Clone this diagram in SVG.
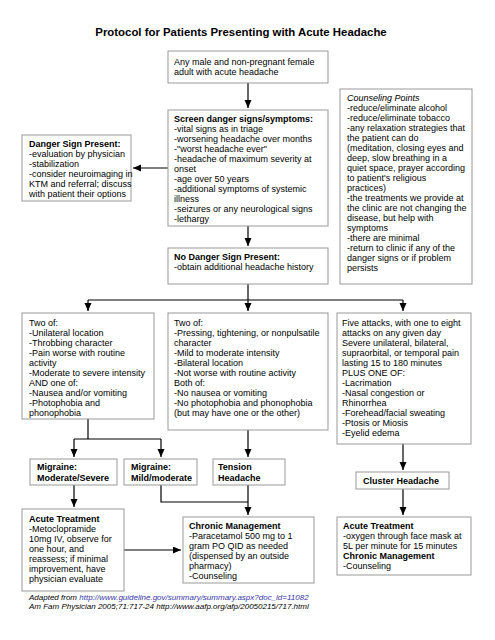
<svg xmlns="http://www.w3.org/2000/svg" width="495" height="640" viewBox="0 0 495 640">
<defs>
<marker id="ah" markerUnits="userSpaceOnUse" markerWidth="9" markerHeight="8" refX="8" refY="3.5" orient="auto">
<path d="M0,0 L8,3.5 L0,7 z" fill="#000"/>
</marker>
<style>
.box{fill:#fff;stroke:#999;stroke-width:1}
text{font-family:"Liberation Sans",Arial,sans-serif;font-size:9px;fill:#000}
.b{font-weight:bold}
.i{font-style:italic}
.t{font-size:11.4px;font-weight:bold}
.f{font-size:8px;font-style:italic}
.lk{fill:#3535a8}
.c{fill:none;stroke:#000;stroke-width:1.2}
</style>
</defs>
<rect width="495" height="640" fill="#fff"/>
<text class="t" x="241" y="36" text-anchor="middle">Protocol for Patients Presenting with Acute Headache</text>

<g id="connectors">
<path class="c" d="M248,83 V108" marker-end="url(#ah)"/>
<path class="c" d="M168,168 H133" marker-end="url(#ah)"/>
<path class="c" d="M248,226 V246" marker-end="url(#ah)"/>
<path class="c" d="M248,284 V300"/>
<path class="c" d="M88,300 H403"/>
<path class="c" d="M88,300 V311" marker-end="url(#ah)"/>
<path class="c" d="M248,300 V311" marker-end="url(#ah)"/>
<path class="c" d="M403,300 V311" marker-end="url(#ah)"/>
<path class="c" d="M88,419 V439"/>
<path class="c" d="M74,439 H161"/>
<path class="c" d="M74,439 V457" marker-end="url(#ah)"/>
<path class="c" d="M161,439 V457" marker-end="url(#ah)"/>
<path class="c" d="M248,430 V457" marker-end="url(#ah)"/>
<path class="c" d="M403,444 V470" marker-end="url(#ah)"/>
<path class="c" d="M74,485 V507" marker-end="url(#ah)"/>
<path class="c" d="M161,485 V502 H248"/>
<path class="c" d="M248,485 V515" marker-end="url(#ah)"/>
<path class="c" d="M403,489 V515" marker-end="url(#ah)"/>
<path class="c" d="M124,550 H181" marker-end="url(#ah)"/>
</g>

<g id="start">
<rect class="box" x="168" y="51" width="160" height="32"/>
<text x="174" y="64.5">Any male and non-pregnant female</text>
<text x="174" y="74.5">adult with acute headache</text>
</g>

<g id="screen">
<rect class="box" x="168" y="110" width="160" height="116"/>
<text class="b" x="174" y="121.5">Screen danger signs/symptoms:</text>
<text x="174" y="131.5">-vital signs as in triage</text>
<text x="174" y="141.5">-worsening headache over months</text>
<text x="174" y="151.5">-"worst headache ever"</text>
<text x="174" y="161.5">-headache of maximum severity at</text>
<text x="174" y="171.5">onset</text>
<text x="174" y="181.5">-age over 50 years</text>
<text x="174" y="191.5">-additional symptoms of systemic</text>
<text x="174" y="201.5">illness</text>
<text x="174" y="211.5">-seizures or any neurological signs</text>
<text x="174" y="221.5">-lethargy</text>
</g>

<g id="danger">
<rect class="box" x="22" y="135" width="109" height="66"/>
<text class="b" x="29" y="146.5">Danger Sign Present:</text>
<text x="29" y="156.5">-evaluation by physician</text>
<text x="29" y="166.5">-stabilization</text>
<text x="29" y="176.5">-consider neuroimaging in</text>
<text x="29" y="186.5">KTM and referral; discuss</text>
<text x="29" y="196.5">with patient their options</text>
</g>

<g id="counseling">
<rect class="box" x="340" y="89" width="132" height="195"/>
<text class="i" x="347" y="100.5">Counseling Points</text>
<text x="347" y="110.5">-reduce/eliminate alcohol</text>
<text x="347" y="120.5">-reduce/eliminate tobacco</text>
<text x="347" y="130.5">-any relaxation strategies that</text>
<text x="347" y="140.5">the patient can do</text>
<text x="347" y="150.5">(meditation, closing eyes and</text>
<text x="347" y="160.5">deep, slow breathing in a</text>
<text x="347" y="170.5">quiet space, prayer according</text>
<text x="347" y="180.5">to patient's religious</text>
<text x="347" y="190.5">practices)</text>
<text x="347" y="200.5">-the treatments we provide at</text>
<text x="347" y="210.5">the clinic are not changing the</text>
<text x="347" y="220.5">disease, but help with</text>
<text x="347" y="230.5">symptoms</text>
<text x="347" y="240.5">-there are minimal</text>
<text x="347" y="250.5">-return to clinic if any of the</text>
<text x="347" y="260.5">danger signs or if problem</text>
<text x="347" y="270.5">persists</text>
</g>

<g id="nodanger">
<rect class="box" x="168" y="248" width="160" height="36"/>
<text class="b" x="174" y="260">No Danger Sign Present:</text>
<text x="174" y="270">-obtain additional headache history</text>
</g>

<g id="migraine-criteria">
<rect class="box" x="22" y="313" width="132" height="106"/>
<text x="29" y="325.5">Two of:</text>
<text x="29" y="335.5">-Unilateral location</text>
<text x="29" y="345.5">-Throbbing character</text>
<text x="29" y="355.5">-Pain worse with routine</text>
<text x="29" y="365.5">activity</text>
<text x="29" y="375.5">-Moderate to severe intensity</text>
<text x="29" y="385.5">AND one of:</text>
<text x="29" y="395.5">-Nausea and/or vomiting</text>
<text x="29" y="405.5">-Photophobia and</text>
<text x="29" y="415.5">phonophobia</text>
</g>

<g id="tension-criteria">
<rect class="box" x="168" y="313" width="160" height="117"/>
<text x="174" y="325.5">Two of:</text>
<text x="174" y="335.5">-Pressing, tightening, or nonpulsatile</text>
<text x="174" y="345.5">character</text>
<text x="174" y="355.5">-Mild to moderate intensity</text>
<text x="174" y="365.5">-Bilateral location</text>
<text x="174" y="375.5">-Not worse with routine activity</text>
<text x="174" y="385.5">Both of:</text>
<text x="174" y="395.5">-No nausea or vomiting</text>
<text x="174" y="405.5">-No photophobia and phonophobia</text>
<text x="174" y="415.5">(but may have one or the other)</text>
</g>

<g id="cluster-criteria">
<rect class="box" x="337" y="313" width="134" height="131"/>
<text x="342" y="325.5">Five attacks, with one to eight</text>
<text x="342" y="335.5">attacks on any given day</text>
<text x="342" y="345.5">Severe unilateral, bilateral,</text>
<text x="342" y="355.5">supraorbital, or temporal pain</text>
<text x="342" y="365.5">lasting 15 to 180 minutes</text>
<text x="342" y="375.5">PLUS ONE OF:</text>
<text x="342" y="385.5">-Lacrimation</text>
<text x="342" y="395.5">-Nasal congestion or</text>
<text x="342" y="405.5">Rhinorrhea</text>
<text x="342" y="415.5">-Forehead/facial sweating</text>
<text x="342" y="425.5">-Ptosis or Miosis</text>
<text x="342" y="435.5">-Eyelid edema</text>
</g>

<g id="migraine-severe">
<rect class="box" x="30" y="459" width="87" height="26"/>
<text class="b" x="37" y="470">Migraine:</text>
<text class="b" x="37" y="480.5">Moderate/Severe</text>
</g>

<g id="migraine-mild">
<rect class="box" x="124" y="459" width="73" height="26"/>
<text class="b" x="131" y="470">Migraine:</text>
<text class="b" x="131" y="480.5">Mild/moderate</text>
</g>

<g id="tension">
<rect class="box" x="213" y="459" width="72" height="26"/>
<text class="b" x="218" y="470">Tension</text>
<text class="b" x="218" y="480.5">Headache</text>
</g>

<g id="cluster">
<rect class="box" x="356" y="472" width="93" height="17"/>
<text class="b" x="363" y="484">Cluster Headache</text>
</g>

<g id="acute-migraine">
<rect class="box" x="22" y="509" width="102" height="82"/>
<text class="b" x="29" y="521.5">Acute Treatment</text>
<text x="29" y="531.5">-Metoclopramide</text>
<text x="29" y="541.5">10mg IV, observe for</text>
<text x="29" y="551.5">one hour, and</text>
<text x="29" y="561.5">reassess; if minimal</text>
<text x="29" y="571.5">improvement, have</text>
<text x="29" y="581.5">physician evaluate</text>
</g>

<g id="chronic">
<rect class="box" x="183" y="517" width="131" height="66"/>
<text class="b" x="189" y="529">Chronic Management</text>
<text x="189" y="539">-Paracetamol 500 mg to 1</text>
<text x="189" y="549">gram PO QID as needed</text>
<text x="189" y="559">(dispensed by an outside</text>
<text x="189" y="569">pharmacy)</text>
<text x="189" y="579">-Counseling</text>
</g>

<g id="acute-cluster">
<rect class="box" x="337" y="517" width="134" height="58"/>
<text class="b" x="343" y="529">Acute Treatment</text>
<text x="343" y="539">-oxygen through face mask at</text>
<text x="343" y="549">5L per minute for 15 minutes</text>
<text class="b" x="343" y="559">Chronic Management</text>
<text x="343" y="569">-Counseling</text>
</g>

<g id="footer">
<text class="f" x="29" y="599.5">Adapted from <tspan class="lk">http://www.guideline.gov/summary/summary.aspx?doc_id=11082</tspan></text>
<text class="f" x="29" y="608.5">Am Fam Physician 2005;71:717-24 http://www.aafp.org/afp/20050215/717.html</text>
</g>
</svg>
